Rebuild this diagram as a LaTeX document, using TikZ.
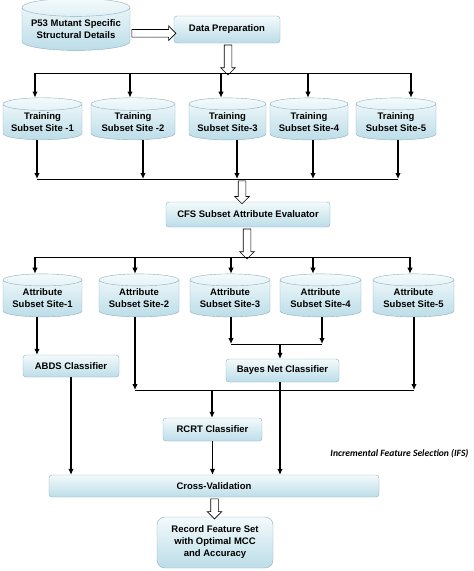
\documentclass[tikz,border=0pt]{standalone}
\usepackage{fontspec}
\setmainfont{Liberation Sans}
\newfontfamily\ifsfont{Carlito}
\usetikzlibrary{arrows.meta,calc,shapes.geometric,shapes.arrows}

\definecolor{boxtop}{HTML}{F3FAFC}
\definecolor{boxbot}{HTML}{BCDDE8}
\definecolor{boxline}{HTML}{8FB0BE}
\newcommand\boxfont{\bfseries\fontsize{9.5}{12}\selectfont}

\tikzset{
  box/.style={draw=boxline, top color=boxtop, bottom color=boxbot,
    rounded corners=3pt, align=center, font=\boxfont, inner sep=0pt},
  db/.style={cylinder, shape border rotate=90, aspect=0.2, draw=boxline,
    top color=boxtop, bottom color=boxbot, align=center, font=\boxfont, inner sep=0pt},
  flow/.style={->, line width=1.1pt},
  bus/.style={line width=1pt},
  hollow/.style={single arrow, draw=black, fill=white, line width=0.6pt,
    inner sep=3.5pt, single arrow head extend=3.5pt, single arrow tip angle=90}
}

\begin{document}
\begin{tikzpicture}[x=1pt,y=-1pt,>={Latex[length=6pt,width=5.5pt]}]
  \fill[white] (0,0) rectangle (474,571);
  \useasboundingbox (0,0) rectangle (474,571);

  % Input and data preparation
  \node[db, minimum width=108, minimum height=52] (p53) at (76,29) {P53 Mutant Specific\\Structural Details};
  \node[box, minimum width=106, minimum height=27] (prep) at (227,29.5) {Data Preparation};
  \node[hollow, minimum height=44, yshift=-4] (h1) at ($(p53.east)!0.5!(prep.west)$) {};

  % Training subsets
  \coordinate (bus1) at (228,73);
  \node[hollow, rotate=-90, minimum height=30] (h2) at ($(prep.south -| bus1)!0.5!(bus1)$) {};
  \foreach \n/\x/\w/\lab in {1/42.5/79/Subset Site -1, 2/133/84/Subset Site -2,
      3/227.5/77/Subset Site-3, 4/309/78/Subset Site-4, 5/396/80/Subset Site-5}
    \node[db, minimum width=\w, minimum height=42] (T\n) at (\x,122) {Training\\\lab};
  \draw[bus] ([xshift=-7.5]T1.north |- bus1) -- ([xshift=15]T5.north |- bus1);
  \foreach \n/\dx in {1/-7.5,2/-3,3/-6.5,4/-1,5/15}
    \draw[flow] ([xshift=\dx]T\n.north |- bus1) -- ([xshift=\dx]T\n.north);

  \coordinate (bus2) at (242,179);
  \draw[bus] ([xshift=-5.5]T1.south |- bus2) -- ([xshift=2]T5.south |- bus2);
  \foreach \n/\dx in {1/-5.5,2/10,3/9.5,4/4,5/2}
    \draw[flow] ([xshift=\dx]T\n.south) -- ([xshift=\dx]T\n.south |- bus2);

  % Attribute evaluation
  \node[box, minimum width=164, minimum height=25] (cfs) at (248,214.5) {CFS Subset Attribute Evaluator};
  \node[hollow, rotate=-90, minimum height=23] (h3) at ($(bus2)!0.5!(bus2 |- cfs.north)$) {};
  \coordinate (bus3) at (247,257);
  \node[hollow, rotate=-90, minimum height=30] (h4) at ($(cfs.south -| bus3)!0.5!(bus3)$) {};

  \foreach \n/\x/\w in {1/42.5/79,2/139/80,3/230/80,4/320.5/81,5/413.5/81}
    \node[db, minimum width=\w, minimum height=43] (A\n) at (\x,298.5) {Attribute\\Subset Site-\n};
  \draw[bus] ([xshift=-7.5]A1.north |- bus3) -- ([xshift=-3.5]A5.north |- bus3);
  \foreach \n/\dx in {1/-7.5,2/-4,3/1,4/-7.5,5/-3.5}
    \draw[flow] ([xshift=\dx]A\n.north |- bus3) -- ([xshift=\dx]A\n.north);

  % Classifiers
  \node[box, minimum width=96, minimum height=22] (abds) at (71,366) {ABDS Classifier};
  \draw[flow] ([xshift=-5.5]A1.south) -- ([xshift=-5.5]A1.south |- abds.north);

  \coordinate (join) at (280,344);
  \node[box, minimum width=113, minimum height=23] (bayes) at (282.5,370.5) {Bayes Net Classifier};
  \draw[flow] ([xshift=1]A3.south) -- ([xshift=1]A3.south |- join);
  \draw[flow] ([xshift=1.5]A4.south) -- ([xshift=1.5]A4.south |- join);
  \draw[bus] ([xshift=1]A3.south |- join) -- ([xshift=1.5]A4.south |- join);
  \draw[flow] (join) -- (join |- bayes.north);

  \coordinate (bus4) at (212,390);
  \node[box, minimum width=99, minimum height=23] (rcrt) at (212.5,429.5) {RCRT Classifier};
  \draw[flow] ([xshift=-4]A2.south) -- ([xshift=-4]A2.south |- bus4);
  \draw[flow] ([xshift=0.5]A5.south) -- ([xshift=0.5]A5.south |- bus4);
  \draw[bus] ([xshift=-4]A2.south |- bus4) -- ([xshift=0.5]A5.south |- bus4);
  \draw[flow] (bus4) -- (bus4 |- rcrt.north);

  % Validation and result
  \node[box, minimum width=330, minimum height=22] (cv) at (214,486) {Cross-Validation};
  \draw[flow] (abds.south) -- (abds.south |- cv.north);
  \draw[flow] (rcrt.south) -- (rcrt.south |- cv.north);
  \draw[flow] (join |- bayes.south) -- (join |- cv.north);

  \node[box, rounded corners=8pt, minimum width=116, minimum height=51] (rec) at (215,542.5) {Record Feature Set\\with Optimal MCC\\and Accuracy};
  \node[hollow, rotate=-90, minimum height=20] (h5) at ($(cv.south)!0.5!(rec.north)$) {};

  \node[anchor=east, font=\ifsfont\itshape\bfseries\fontsize{9.6}{11}\selectfont] (ifs) at (472,454) {Incremental Feature Selection (IFS)};
\end{tikzpicture}
\end{document}
